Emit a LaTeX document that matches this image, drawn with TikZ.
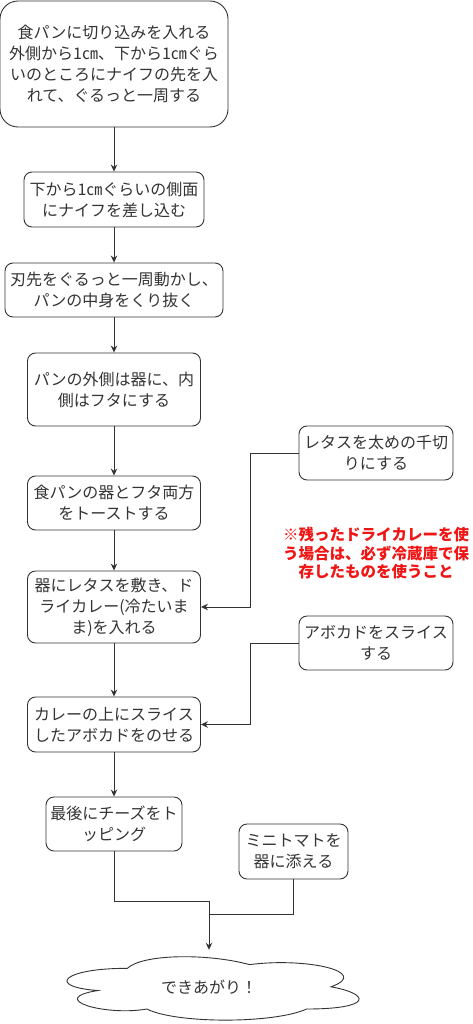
\documentclass[tikz,border=0pt]{standalone}
\usepackage{fontspec}
\setmainfont{Noto Sans CJK JP}
\usetikzlibrary{arrows.meta}
\definecolor{ink}{HTML}{333333}
\definecolor{notered}{HTML}{F01414}
\tikzset{
  box/.style={draw=ink, line width=0.9pt, rounded corners=8pt, align=center,
    inner sep=0pt, text=ink, font=\fontsize{16}{21}\selectfont},
  line/.style={draw=ink, line width=0.9pt},
  arrow/.style={line, -{Stealth[length=7pt,width=6.5pt]}},
}
\begin{document}
\begin{tikzpicture}[x=1pt,y=-1pt]
  \useasboundingbox (0,0) rectangle (472,1024);
  % Pasos
  \node[box, rounded corners=18pt, minimum width=228pt, minimum height=126pt] (b1) at (114,64)
    {食パンに切り込みを入れる\\外側から1㎝、下から1㎝ぐら\\いのところにナイフの先を入\\れて、ぐるっと一周する};
  \foreach \n/\y/\w/\h/\txt in {
      2/199.5/180/55/下から1㎝ぐらいの側面\\にナイフを差し込む,
      3/290/218/54/刃先をぐるっと一周動かし、\\パンの中身をくり抜く,
      4/389.5/173/73/パンの外側は器に、内\\側はフタにする,
      5/503/173/54/食パンの器とフタ両方\\をトーストする,
      6/607/173/72/器にレタスを敷き、ド\\ライカレー(冷たいま\\ま)を入れる,
      7/724.5/173/55/カレーの上にスライス\\したアボカドをのせる,
      8/824/136/54/最後にチーズをト\\ッピング
    } {
    \node[box, minimum width=\w pt, minimum height=\h pt] (b\n) at (114,\y) {\txt};
  }
  \foreach \a/\b in {1/2,2/3,3/4,4/5,5/6,6/7,7/8}
    \draw[arrow] (b\a) -- (b\b);

  % Extras
  \node[box, minimum width=154pt, minimum height=54pt] (lettuce) at (376,453) {レタスを太めの千切\\りにする};
  \node[box, minimum width=154pt, minimum height=54pt] (avocado) at (376,643) {アボカドをスライス\\する};
  \node[box, minimum width=109pt, minimum height=55pt] (tomato) at (293.5,851.5) {ミニトマトを\\器に添える};
  \node[align=center, text=notered, font=\bfseries\fontsize{15.5}{18.5}\selectfont] (note) at (376,553.5)
    {※残ったドライカレーを使\\う場合は、必ず冷蔵庫で保\\存したものを使うこと};

  \draw[arrow] (lettuce.west) -- ++(-48,0) |- (b6.east);
  \draw[arrow] (avocado.west) -- ++(-48,0) |- (b7.east);

  % Fin
  \node[minimum width=326pt, minimum height=74pt, inner sep=0pt, text=ink,
    font=\fontsize{16}{21}\selectfont] (done) at (209,987) {できあがり！};
  \begin{scope}[shift={(done.north west)}, x=326pt, y=-74pt]
    \draw[line] (0.25,0.25) .. controls (0.05,0.25) and (0,0.5) .. (0.16,0.55)
      .. controls (0,0.66) and (0.18,0.9) .. (0.31,0.8)
      .. controls (0.4,1) and (0.7,1) .. (0.8,0.8)
      .. controls (1,0.8) and (1,0.6) .. (0.875,0.5)
      .. controls (1,0.3) and (0.8,0.1) .. (0.625,0.2)
      .. controls (0.5,0.05) and (0.3,0.05) .. (0.25,0.25) -- cycle;
  \end{scope}
  \coordinate (merge) at (209,914);
  \draw[arrow] (b8.south) -- ++(0,50) -| (done.north);
  \draw[line] (tomato.south) |- (merge);
\end{tikzpicture}
\end{document}
